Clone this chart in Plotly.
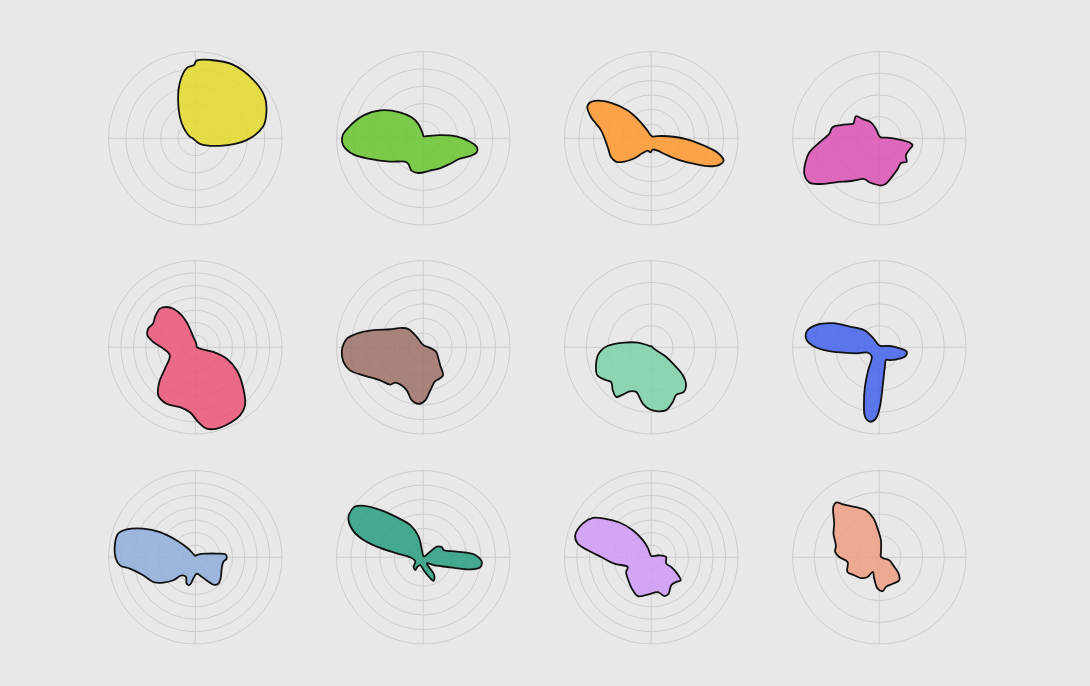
import plotly.graph_objects as go

# ---- data: (theta in degrees, r in ring units) per panel ----
theta_1 = [180, 230, 270, 310, 343, 358, 10, 20.5, 31, 45, 63, 79, 89, 91, 97, 106, 116, 132, 163, 180]
r_1 = [0.15, 0.1, 0.12, 0.42, 1.48, 2.96, 3.98, 4.38, 4.67, 4.75, 4.77, 4.6, 4.48, 4.23, 4.08, 3.29, 2.25, 1.17, 0.33, 0.15]

theta_2 = [97, 109, 119, 132, 147, 159, 172, 178, 185, 193, 201, 215, 232, 240, 250, 262, 282, 299, 316, 331, 339, 345, 350.5, 356, 3.4, 11, 50, 80, 97]
r_2 = [0.31, 0.88, 1.38, 2.02, 2.96, 3.69, 4.37, 4.65, 4.63, 4.13, 3.31, 2.35, 1.71, 1.71, 1.98, 2.02, 1.9, 1.98, 2.13, 2.42, 2.88, 3.19, 3.15, 2.69, 1.92, 0.98, 0.15, 0.12, 0.31]

theta_3 = [101, 118, 125, 130, 138.5, 144.8, 150, 154, 160.7, 171, 192, 205.4, 214, 221, 230, 240, 255, 267, 278, 298, 310.4, 321.3, 329.4, 334.4, 339, 343, 347.6, 352, 358, 7, 20, 50, 101]
r_3 = [0.23, 0.74, 1.62, 2.52, 3.7, 4.53, 4.92, 4.92, 4.41, 3.51, 3.07, 3.07, 2.91, 2.45, 1.8, 1.18, 0.88, 0.97, 0.79, 0.97, 1.43, 2.36, 3.49, 4.48, 5.08, 5.24, 4.73, 3.72, 2.54, 1.15, 0.45, 0.15, 0.23]

theta_4 = [101, 109.7, 117.5, 130.8, 136.7, 150, 151.7, 161, 166.7, 175, 184, 191.3, 198, 205.4, 212.2, 217.3, 225.4, 238, 250, 257.2, 264, 272, 278.3, 290, 301, 311.3, 319.5, 327, 339.3, 347.6, 352.4, 358, 5, 30, 70, 101]
r_4 = [0.15, 0.46, 0.83, 1.18, 1.48, 1.37, 1.4, 1.88, 2.22, 2.32, 2.77, 3.29, 3.58, 3.83, 3.82, 3.48, 2.85, 2.31, 2.0, 2.08, 2.12, 2.18, 2.12, 1.83, 1.65, 1.52, 1.66, 1.46, 1.48, 1.57, 1.4, 0.77, 0.35, 0.08, 0.08, 0.15]

theta_5 = [101, 107.6, 113, 119.6, 125.4, 132.4, 143, 150.6, 158.3, 166, 172.8, 182.4, 197.5, 215.1, 224, 232.4, 243, 255.6, 265.3, 272.3, 278, 285, 296, 303.3, 310.6, 319.3, 331, 340, 345.5, 344, 10, 45, 82, 101]
r_5 = [0.86, 1.86, 2.8, 3.58, 3.99, 4.23, 4.07, 3.91, 4.1, 3.99, 3.42, 2.59, 2.16, 2.99, 4.04, 4.9, 5.12, 4.99, 5.26, 6.04, 6.63, 6.79, 6.71, 6.58, 6.17, 5.12, 3.83, 2.7, 1.5, 0.45, 0.12, 0.15, 0.38, 0.86]

theta_6 = [110, 121.5, 129, 137.8, 151.4, 161, 168.4, 173.5, 182.1, 190.4, 197.5, 205.1, 217.5, 228.5, 231.6, 240.7, 249.2, 258, 265.3, 272.2, 279.2, 289.4, 295.6, 305.1, 313.4, 331, 340.3, 355, 34, 80, 110]
r_6 = [0.28, 0.83, 1.62, 1.99, 2.61, 3.63, 4.69, 5.31, 5.63, 5.61, 5.31, 4.57, 3.76, 3.44, 3.12, 3.03, 3.19, 3.76, 3.93, 3.67, 3.03, 2.49, 2.45, 2.38, 1.71, 1.13, 0.95, 0.48, 0.16, 0.15, 0.28]

theta_7 = [149, 160.7, 170, 178, 183.4, 188.5, 198.1, 207.4, 216.3, 221, 228.3, 234.8, 238, 244, 251.4, 255.2, 261.6, 268.5, 276, 283.4, 291.6, 297.8, 306.2, 312.6, 318.5, 322.4, 328, 331, 0, 60, 120, 149]
r_7 = [0.18, 0.65, 1.25, 2.0, 2.31, 2.49, 2.68, 2.8, 2.57, 2.45, 2.66, 2.8, 2.62, 2.26, 2.17, 2.29, 2.63, 2.86, 2.97, 2.98, 2.71, 2.48, 2.55, 2.38, 1.95, 1.35, 0.72, 0.2, 0.06, 0.05, 0.06, 0.18]

theta_8 = [123.7, 130.7, 144.8, 152.4, 160.4, 167.8, 174.2, 178.8, 183.6, 188.4, 194.8, 206, 230.6, 244.1, 250, 254.7, 258.3, 262.8, 267.3, 270.6, 274.8, 286.3, 297.8, 310, 325.3, 340, 351, 357.2, 7, 30, 90, 123.7]
r_8 = [0.49, 1.02, 1.66, 2.4, 3.08, 3.43, 3.37, 3.05, 2.43, 1.68, 1.08, 0.57, 0.55, 1.17, 1.94, 2.68, 3.26, 3.46, 3.28, 2.74, 1.82, 0.92, 0.66, 0.77, 0.97, 1.26, 1.28, 0.95, 0.49, 0.12, 0.08, 0.49]

theta_9 = [117, 129, 137.7, 144.4, 151.1, 157.8, 162.9, 170.3, 181, 186.1, 189.8, 199.1, 210.4, 218.4, 226.3, 232.8, 244.6, 251.8, 259, 264.6, 275, 284.5, 296.2, 303.4, 311.1, 320, 336.7, 350.5, 357.6, 5, 9.8, 18, 30, 60, 90, 117]
r_9 = [0.24, 0.89, 2.05, 3.5, 4.8, 5.98, 6.52, 6.58, 6.41, 6.12, 5.36, 4.45, 3.94, 3.29, 2.56, 1.83, 1.75, 2.24, 2.26, 1.73, 1.32, 1.51, 2.08, 2.64, 2.83, 2.67, 2.32, 2.29, 2.53, 2.48, 1.75, 0.97, 0.55, 0.2, 0.12, 0.24]

theta_10 = [90, 100, 102.7, 111.9, 119.7, 132.3, 138.7, 143.7, 149.3, 153.9, 159.8, 163.8, 167, 171.4, 180, 208.4, 224, 237.7, 239, 249, 271.5, 288.4, 294, 302, 300, 301.4, 323.4, 339.7, 345.7, 350, 355.8, 2.6, 9.6, 19.8, 28, 38, 39, 33, 60, 90]
r_10 = [0.1, 0.51, 1.48, 2.42, 2.98, 4.43, 5.4, 5.9, 5.94, 5.75, 5.1, 4.3, 3.3, 1.85, 0.9, 0.62, 0.92, 1.04, 0.76, 0.58, 0.88, 1.52, 1.78, 1.43, 0.74, 0.48, 0.9, 1.99, 3.37, 4.0, 4.06, 3.6, 2.36, 1.5, 1.48, 1.2, 0.62, 0.16, 0.08, 0.1]

theta_11 = [90, 109.7, 116, 124.2, 132.4, 140.4, 146, 153.8, 163.9, 169.4, 173.7, 179.6, 189.8, 202.5, 210.4, 222.4, 241, 251, 264.9, 280.9, 289, 295.5, 305.5, 315.4, 321.9, 327.9, 334.2, 337.1, 350, 1.3, 13.5, 40, 90]
r_11 = [0.1, 0.81, 1.54, 2.64, 3.8, 4.9, 5.69, 6.17, 6.39, 6.04, 5.15, 4.04, 3.02, 2.05, 2.35, 2.56, 3.05, 3.32, 3.02, 2.86, 3.32, 3.26, 2.78, 2.83, 3.02, 2.48, 1.81, 1.32, 1.22, 1.21, 0.7, 0.15, 0.1]

theta_12 = [20, 72.6, 84.4, 93.3, 98.7, 105.8, 114.9, 123.6, 128.4, 132.4, 143.2, 153, 164.5, 173.1, 179.5, 188.4, 204.8, 215.8, 228.4, 239.3, 245.6, 256.8, 267, 275.6, 282.7, 296.9, 311, 319.8, 327.2, 343.3, 345, 20]
r_12 = [0.08, 0.26, 0.78, 1.32, 1.83, 2.26, 2.55, 2.92, 3.22, 3.15, 2.6, 2.37, 2.08, 2.05, 1.85, 1.48, 1.62, 1.42, 1.28, 1.06, 0.74, 1.02, 1.45, 1.57, 1.4, 1.37, 1.4, 1.17, 0.83, 0.48, 0.25, 0.08]

# number of grid rings per panel (radial range max)
ring_counts = [5, 5, 6, 4, 7, 6, 4, 4, 7, 6, 7, 4]

fill_colors = [
    "rgba(228,218,43,0.85)", "rgba(104,196,46,0.85)", "rgba(254,150,43,0.85)", "rgba(220,81,179,0.85)",
    "rgba(234,84,119,0.85)", "rgba(157,113,103,0.85)", "rgba(124,208,168,0.85)", "rgba(66,98,234,0.85)",
    "rgba(143,173,220,0.85)", "rgba(40,157,127,0.85)", "rgba(207,153,247,0.85)", "rgba(239,157,132,0.85)",
]

thetas = [theta_1, theta_2, theta_3, theta_4, theta_5, theta_6, theta_7, theta_8, theta_9, theta_10, theta_11, theta_12]
rs = [r_1, r_2, r_3, r_4, r_5, r_6, r_7, r_8, r_9, r_10, r_11, r_12]

W, H = 1090, 686
col_centers = [195.3, 423.2, 651.2, 879.3]
row_centers = [138.3, 347.3, 557.3]
RAD = 86.7
BG = "#e8e8e8"
GRID = "#cdcdcd"

fig = go.Figure()
layout_polars = {}
for i in range(12):
    row, col = divmod(i, 4)
    name = "polar" if i == 0 else f"polar{i+1}"
    fig.add_trace(go.Scatterpolar(
        r=rs[i], theta=thetas[i], mode="lines", line=dict(color="#111111", width=1.8, shape="spline"),
        fill="toself", fillcolor=fill_colors[i], subplot=name, showlegend=False,
        cliponaxis=False, hoverinfo="skip",
    ))
    cx, cy = col_centers[col], row_centers[row]
    layout_polars[name] = dict(
        domain=dict(x=[(cx - RAD) / W, (cx + RAD) / W], y=[1 - (cy + RAD) / H, 1 - (cy - RAD) / H]),
        bgcolor=BG,
        radialaxis=dict(range=[0, ring_counts[i]], dtick=1, showticklabels=False, ticks="",
                        showline=False, gridcolor=GRID, gridwidth=1, layer="below traces"),
        angularaxis=dict(dtick=90, showticklabels=False, ticks="", showline=True, linecolor=GRID,
                         linewidth=1, gridcolor=GRID, gridwidth=1, layer="below traces"),
    )

fig.update_layout(width=W, height=H, paper_bgcolor=BG, plot_bgcolor=BG,
                  margin=dict(l=0, r=0, t=0, b=0), showlegend=False, **layout_polars)
fig.write_html("out.html", config={"displayModeBar": False},
               post_script="document.body.style.margin='0';document.body.style.background='#e8e8e8';")
